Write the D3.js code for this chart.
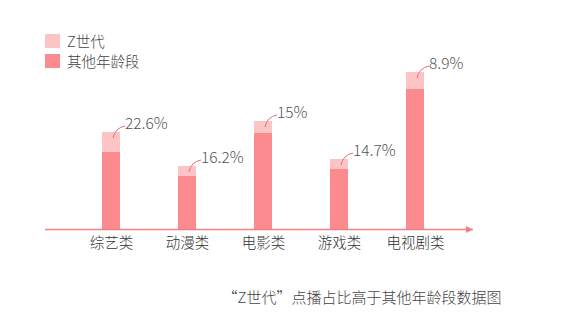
<!DOCTYPE html>
<html>
<head>
<meta charset="utf-8">
<script src="https://cdn.jsdelivr.net/npm/d3@7"></script>
<style>
  body { margin: 0; background: #fff; }
  text { font-family: "Noto Sans CJK SC", "Noto Sans", sans-serif; font-weight: 300; }
</style>
</head>
<body>
<div id="chart"></div>
<script>
// data (bar heights in rough units)
const categories = ["综艺类", "动漫类", "电影类", "游戏类", "电视剧类"];
const otherAges = [77, 53, 96, 60, 140];
const genZ = [20, 10, 12, 10, 17];
const shareLabels = ["22.6%", "16.2%", "15%", "14.7%", "8.9%"];
const seriesNames = ["Z世代", "其他年龄段"];

const width = 571, height = 331;
const lightColor = "#fdc4c6", darkColor = "#fb8b8e", axisColor = "#f27f84";

let svg = d3.select("#chart")
    .append("svg")
    .attr("width", width)
    .attr("height", height);

let x = d3.scalePoint()
    .domain(categories)
    .range([111, 415]);

let y = d3.scaleLinear()
    .domain([0, 160])
    .range([229, 69]);

let data = categories.map((c, i) => ({cat: c, other: otherAges[i], z: genZ[i], label: shareLabels[i]}));
const barW = 18;

// stacked bars
svg.append("g").selectAll("rect.other")
    .data(data)
    .enter().append("rect")
    .attr("x", d => x(d.cat) - barW / 2)
    .attr("y", d => y(d.other))
    .attr("width", barW)
    .attr("height", d => y(0) - y(d.other))
    .attr("fill", darkColor);

svg.append("g").selectAll("rect.z")
    .data(data)
    .enter().append("rect")
    .attr("x", d => x(d.cat) - barW / 2)
    .attr("y", d => y(d.other + d.z))
    .attr("width", barW)
    .attr("height", d => y(d.other) - y(d.other + d.z))
    .attr("fill", lightColor);

// axis line with arrow
svg.append("defs").append("marker")
    .attr("id", "arrow")
    .attr("viewBox", "0 0 10 10")
    .attr("refX", 10).attr("refY", 5)
    .attr("markerWidth", 7).attr("markerHeight", 7)
    .attr("markerUnits", "userSpaceOnUse")
    .attr("orient", "auto")
    .append("path")
    .attr("d", "M0,0L10,5L0,10Z")
    .attr("fill", axisColor);

svg.append("line")
    .attr("x1", 45).attr("x2", 473)
    .attr("y1", y(0) + 0.5).attr("y2", y(0) + 0.5)
    .attr("stroke", axisColor)
    .attr("stroke-width", 1.5)
    .attr("marker-end", "url(#arrow)");

let xAxis = svg.append("g")
    .attr("transform", `translate(0,${y(0)})`)
    .call(d3.axisBottom(x).tickSize(0).tickPadding(9));
xAxis.select(".domain").remove();
xAxis.selectAll("text")
    .style("font-size", "14.5px")
    .style("font-family", "\"Noto Sans CJK SC\", sans-serif")
    .style("font-weight", 300)
    .attr("fill", "#333");

// leader lines + value labels
let labels = svg.append("g");
labels.selectAll("path")
    .data(data)
    .enter().append("path")
    .attr("d", d => {
        let cx = x(d.cat), top = y(d.other + d.z);
        return `M${cx + 2},${top + 6} Q${cx + 4},${top - 4} ${cx + 14},${top - 6}`;
    })
    .attr("fill", "none")
    .attr("stroke", "#e0707a")
    .attr("stroke-width", 1);

labels.selectAll("text")
    .data(data)
    .enter().append("text")
    .attr("x", d => x(d.cat) + 14)
    .attr("y", d => y(d.other + d.z) - 3)
    .style("font-size", "15.5px")
    .attr("fill", "#555")
    .text(d => d.label);

// legend
let legend = svg.append("g").attr("transform", "translate(45,34)");
let legendColors = [lightColor, darkColor];
seriesNames.forEach((name, i) => {
    legend.append("rect")
        .attr("x", 0).attr("y", i * 20)
        .attr("width", 15).attr("height", 14)
        .attr("fill", legendColors[i]);
    legend.append("text")
        .attr("x", 22).attr("y", i * 20 + 12.5)
        .style("font-size", "14.5px")
        .attr("fill", "#444")
        .text(name);
});

// caption
svg.append("text")
    .attr("x", 362).attr("y", 303)
    .style("text-anchor", "middle")
    .style("font-size", "15px")
    .attr("fill", "#444")
    .text("“Z世代”点播占比高于其他年龄段数据图");
</script>
</body>
</html>
